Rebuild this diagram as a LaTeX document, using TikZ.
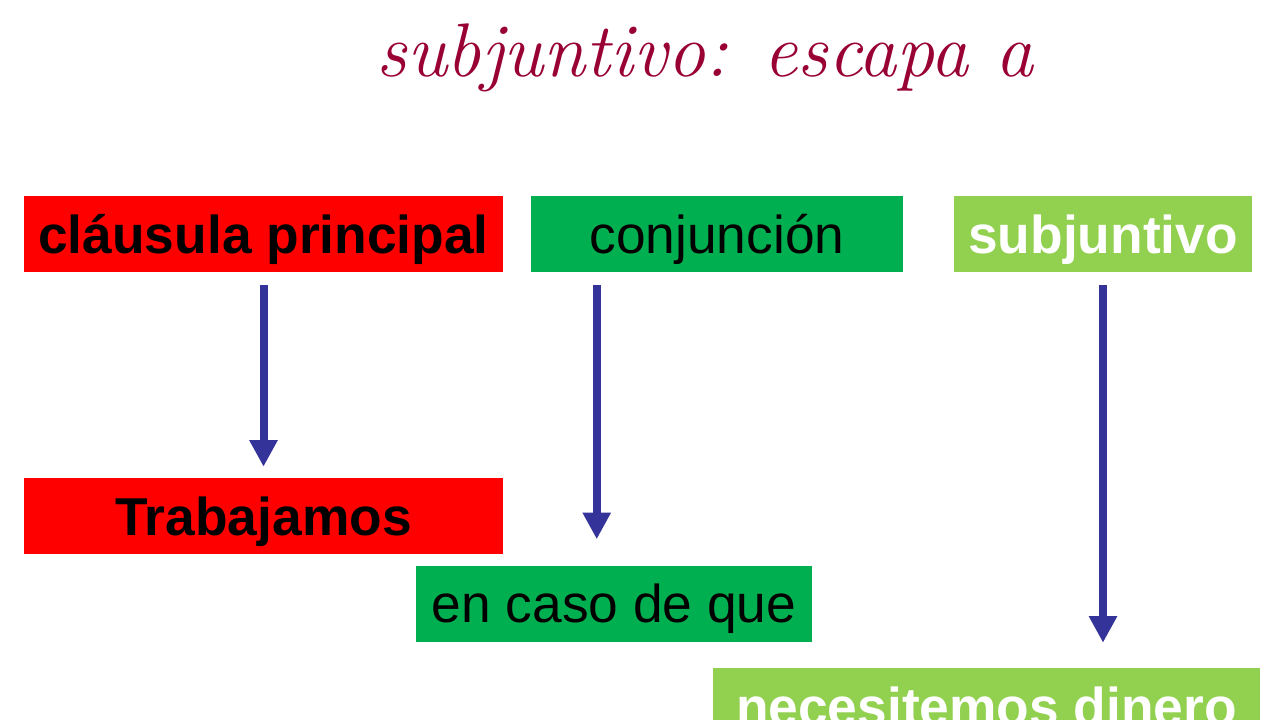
\documentclass[tikz,border=0pt]{standalone}
\usepackage{fontspec}
\setsansfont{Liberation Sans}
\usetikzlibrary{arrows.meta}
\definecolor{boxred}{RGB}{255,0,0}
\definecolor{boxgreen}{RGB}{0,176,80}
\definecolor{boxlime}{RGB}{146,208,80}
\definecolor{arrowblue}{RGB}{51,51,153}
\definecolor{titlered}{RGB}{153,0,51}

\begin{document}
\begin{tikzpicture}[x=0.75pt, y=-0.75pt,
  box/.style={inner sep=0pt, minimum height=57pt, font=\sffamily\fontsize{40}{48}\selectfont,
    text height=33pt, text depth=4.5pt},
  boldbox/.style={box, font=\sffamily\bfseries\fontsize{40}{48}\selectfont},
  arr/.style={arrowblue, line width=6pt, -{Triangle[width=20pt,length=20pt]}}]

\useasboundingbox (0,0) rectangle (1280,720);
\clip (0,0) rectangle (1280,720);
\fill[white] (0,0) rectangle (1280,720);

\node[anchor=base, text=titlered, font=\itshape\fontsize{57}{60}\selectfont] (title) at (705,77) {subjuntivo: escapa a};

\node[boldbox, fill=boxred, minimum width=359.25pt] (clausula) at (263.5,234) {cláusula principal};
\node[box, fill=boxgreen, minimum width=279pt] (conj) at (717,234) {conjunción};
\node[boldbox, fill=boxlime, minimum width=223.5pt, text=white] (subj) at (1103,234) {subjuntivo};

\node[boldbox, fill=boxred, minimum width=359.25pt] (trab) at (263.5,516) {Trabajamos};
\node[box, fill=boxgreen, minimum width=297pt] (encaso) at (614,603.5) {en caso de que};
\node[boldbox, fill=boxlime, minimum width=410.25pt, text=white] (neces) at (986.5,706) {necesitemos dinero};

\coordinate (conjstart) at ([xshift=49.5pt]conj.south west);

\draw[arr, shorten <=9.75pt, shorten >=8.25pt] (clausula.south) -- (trab.north);
\draw[arr, shorten <=9.75pt, shorten >=19.5pt] (conjstart) -- (conjstart |- encaso.north);
\draw[arr, shorten <=9.75pt, shorten >=18.75pt] (subj.south) -- (subj.south |- neces.north);

\end{tikzpicture}
\end{document}
